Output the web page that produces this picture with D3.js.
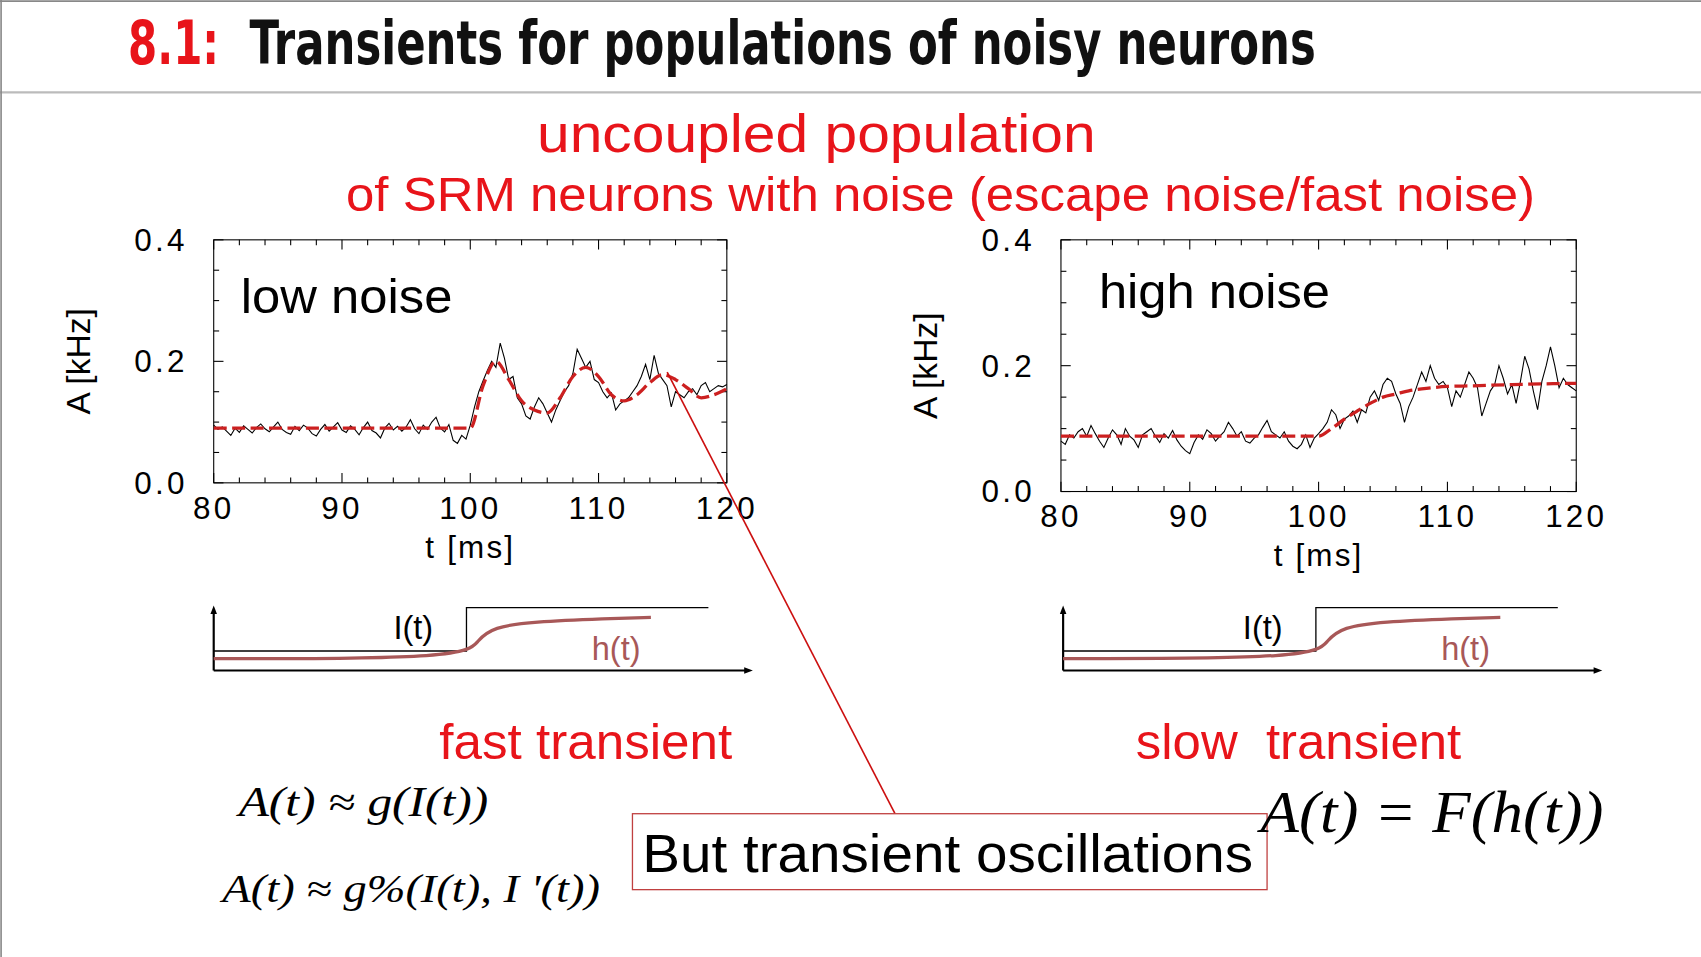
<!DOCTYPE html>
<html><head><meta charset="utf-8">
<script src="https://cdn.jsdelivr.net/npm/d3@7"></script>
<style>body{margin:0;background:#fff}svg{display:block}</style></head>
<body><svg id="c" width="1701" height="957" viewBox="0 0 1568 882"></svg>
<script>
const xTicks=[80,90,100,110,120];
const yTicks=[0.0,0.2,0.4];
const lowTheoryT=[80,100,101,102,103,104,105,106,107,108,109,110,111,112,113,114,115,116,117,118,119,120];
const lowTheory=[0.09,0.09,0.16,0.20,0.17,0.135,0.12,0.115,0.14,0.175,0.19,0.175,0.145,0.135,0.145,0.165,0.178,0.17,0.155,0.14,0.145,0.155];
const highTheoryT=[80,100,101,102,103,104,105,106,107,108,110,112,115,120];
const highTheory=[0.088,0.088,0.1,0.115,0.128,0.14,0.15,0.155,0.16,0.163,0.167,0.168,0.17,0.172];
const lowNoisy=[0.095,0.088,0.092,0.085,0.078,0.09,0.083,0.094,0.088,0.082,
0.091,0.097,0.089,0.084,0.092,0.1,0.088,0.083,0.08,0.093,
0.086,0.095,0.09,0.081,0.077,0.088,0.096,0.085,0.092,0.099,
0.087,0.083,0.094,0.088,0.079,0.091,0.1,0.086,0.082,0.074,
0.09,0.098,0.087,0.093,0.085,0.092,0.104,0.089,0.081,0.095,
0.088,0.1,0.108,0.09,0.084,0.096,0.07,0.065,0.078,0.072,
0.095,0.125,0.15,0.168,0.185,0.2,0.19,0.23,0.205,0.17,
0.175,0.14,0.13,0.11,0.105,0.125,0.14,0.13,0.115,0.1,
0.12,0.135,0.15,0.16,0.18,0.22,0.205,0.19,0.2,0.17,
0.165,0.15,0.14,0.148,0.12,0.13,0.135,0.14,0.15,0.16,
0.175,0.195,0.17,0.21,0.18,0.17,0.16,0.125,0.15,0.145,
0.14,0.15,0.155,0.145,0.16,0.165,0.15,0.155,0.16,0.158,0.162];
const highNoisy=[0.08,0.075,0.09,0.085,0.095,0.1,0.088,0.105,0.092,0.08,
0.07,0.085,0.098,0.09,0.075,0.1,0.088,0.082,0.07,0.09,
0.095,0.1,0.088,0.078,0.092,0.085,0.097,0.082,0.072,0.065,
0.06,0.078,0.09,0.083,0.098,0.092,0.08,0.088,0.095,0.11,
0.1,0.088,0.095,0.08,0.077,0.085,0.09,0.102,0.113,0.095,
0.09,0.085,0.095,0.08,0.072,0.068,0.075,0.09,0.07,0.085,
0.092,0.1,0.11,0.13,0.122,0.1,0.115,0.12,0.128,0.11,
0.13,0.125,0.15,0.16,0.145,0.17,0.18,0.175,0.155,0.14,
0.11,0.135,0.15,0.17,0.19,0.175,0.2,0.18,0.17,0.175,
0.165,0.135,0.16,0.15,0.17,0.19,0.18,0.165,0.12,0.14,
0.16,0.17,0.2,0.18,0.155,0.17,0.14,0.175,0.215,0.195,
0.16,0.13,0.175,0.2,0.23,0.2,0.165,0.18,0.17,0.165,0.16];

const svg=d3.select("#c");
const SANS="'Liberation Sans',Arial,sans-serif";
svg.append("line").attr("x1",0).attr("x2",1568).attr("y1",85).attr("y2",85).attr("stroke","#bbb").attr("stroke-width",2);
svg.append("line").attr("x1",1).attr("x2",1).attr("y1",0).attr("y2",882).attr("stroke","#888").attr("stroke-width",1.5);
svg.append("line").attr("x1",0).attr("x2",1568).attr("y1",1).attr("y2",1).attr("stroke","#888").attr("stroke-width",1.5);
const tf="'Liberation Sans Narrow','DejaVu Sans Condensed',sans-serif";
svg.append("text").attr("x",118).attr("y",59).attr("font-family",tf).attr("font-weight","bold").attr("font-size",56).attr("fill","#e8141a").attr("textLength",84).attr("lengthAdjust","spacingAndGlyphs").text("8.1:");
svg.append("text").attr("x",230).attr("y",59).attr("font-family",tf).attr("font-weight","bold").attr("font-size",56).attr("fill","#111").attr("textLength",983).attr("lengthAdjust","spacingAndGlyphs").text("Transients for populations of noisy neurons");
svg.append("text").attr("x",495).attr("y",140).attr("font-family",SANS).attr("font-size",50).attr("fill","#e8141a").attr("textLength",515).attr("lengthAdjust","spacingAndGlyphs").text("uncoupled population");
svg.append("text").attr("x",319).attr("y",194).attr("font-family",SANS).attr("font-size",44).attr("fill","#e8141a").attr("textLength",1096).attr("lengthAdjust","spacingAndGlyphs").text("of SRM neurons with noise (escape noise/fast noise)");

function panel(x0,x1,y0,y1,label,lx,ly,lw,noisy,thT,th){
  const x=d3.scaleLinear().domain([80,120]).range([x0,x1]);
  const y=d3.scaleLinear().domain([0,0.4]).range([y1,y0]);
  const g=svg.append("g");
  g.append("rect").attr("x",x0).attr("y",y0).attr("width",x1-x0).attr("height",y1-y0).attr("fill","none").attr("stroke","#000").attr("stroke-width",1);
  d3.range(80,121,2).forEach(t=>{const L=t%10===0?9:5;
    g.append("line").attr("x1",x(t)).attr("x2",x(t)).attr("y1",y1).attr("y2",y1-L).attr("stroke","#000");
    g.append("line").attr("x1",x(t)).attr("x2",x(t)).attr("y1",y0).attr("y2",y0+L).attr("stroke","#000");});
  d3.range(0,9).forEach(k=>{const v=k*0.05;const L=k%4===0?9:5;
    g.append("line").attr("x1",x0).attr("x2",x0+L).attr("y1",y(v)).attr("y2",y(v)).attr("stroke","#000");
    g.append("line").attr("x1",x1).attr("x2",x1-L).attr("y1",y(v)).attr("y2",y(v)).attr("stroke","#000");});
  xTicks.forEach(t=>g.append("text").attr("x",x(t)).attr("y",y1+33).attr("text-anchor","middle").attr("font-family",SANS).attr("font-size",29).attr("letter-spacing",3).text(t));
  yTicks.forEach(v=>g.append("text").attr("x",x0-24).attr("y",y(v)+10).attr("text-anchor","end").attr("font-family",SANS).attr("font-size",29).attr("letter-spacing",3).text(v.toFixed(1)));
  g.append("text").attr("x",(x0+x1)/2).attr("y",y1+69).attr("text-anchor","middle").attr("font-family",SANS).attr("font-size",29).attr("letter-spacing",2).text("t [ms]");
  g.append("text").attr("transform",`translate(${x0-114},${(y0+y1)/2}) rotate(-90)`).attr("text-anchor","middle").attr("font-family",SANS).attr("font-size",31).text("A [kHz]");
  g.append("text").attr("x",lx).attr("y",ly).attr("font-family",SANS).attr("font-size",44).attr("textLength",lw).attr("lengthAdjust","spacingAndGlyphs").text(label);
  const line=d3.line().x(d=>x(d[0])).y(d=>y(d[1]));
  g.append("path").attr("d",line(noisy.map((v,i)=>[80+i/3,v]))).attr("fill","none").attr("stroke","#000").attr("stroke-width",1);
  g.append("path").attr("d",d3.line().x(d=>x(d[0])).y(d=>y(d[1])).curve(d3.curveMonotoneX)(thT.map((t,i)=>[t,th[i]]))).attr("fill","none").attr("stroke","#cc2020").attr("stroke-width",3).attr("stroke-dasharray","12,5");
}
panel(197,670,221,445,"low noise",222,288,195,lowNoisy,lowTheoryT,lowTheory);
panel(978,1453,221,453,"high noise",1013,284,213,highNoisy,highTheoryT,highTheory);

function schematic(dx){
  const g=svg.append("g").attr("transform",`translate(${dx},0)`);
  g.append("line").attr("x1",197).attr("x2",197).attr("y1",618).attr("y2",562).attr("stroke","#000").attr("stroke-width",2);
  g.append("path").attr("d","M194,566 L197,558 L200,566Z");
  g.append("line").attr("x1",197).attr("x2",690).attr("y1",618).attr("y2",618).attr("stroke","#000").attr("stroke-width",2);
  g.append("path").attr("d","M686,615 L694,618 L686,621Z");
  g.append("path").attr("d","M197,600 H430 V560 H653").attr("fill","none").attr("stroke","#000").attr("stroke-width",1.2);
  const h=d3.line().curve(d3.curveBasis)([[197,607],[430,607],[440,590],[455,578],[490,573],[560,570],[600,569]]);
  g.append("path").attr("d",h).attr("fill","none").attr("stroke","#a85858").attr("stroke-width",3);
  g.append("text").attr("x",381).attr("y",589).attr("text-anchor","middle").attr("font-family",SANS).attr("font-size",30).text("I(t)");
  g.append("text").attr("x",568).attr("y",608).attr("text-anchor","middle").attr("font-family",SANS).attr("font-size",30).attr("fill","#a85858").text("h(t)");
}
schematic(0);schematic(783);

svg.append("text").attr("x",405).attr("y",700).attr("font-family",SANS).attr("font-size",46).attr("fill","#e8141a").attr("textLength",270).attr("lengthAdjust","spacingAndGlyphs").text("fast transient");
svg.append("text").attr("x",1047).attr("y",700).attr("font-family",SANS).attr("font-size",46).attr("fill","#e8141a").attr("textLength",300).attr("lengthAdjust","spacingAndGlyphs").attr("xml:space","preserve").text("slow  transient");
const SER="'Liberation Serif','Times New Roman',serif";
svg.append("text").attr("x",220).attr("y",752).attr("font-family",SER).attr("font-size",38).attr("font-style","italic").attr("textLength",230).attr("lengthAdjust","spacingAndGlyphs").text("A(t) ≈ g(I(t))");
svg.append("text").attr("x",205).attr("y",831).attr("font-family",SER).attr("font-size",36).attr("font-style","italic").attr("textLength",348).attr("lengthAdjust","spacingAndGlyphs").text("A(t) ≈ g%(I(t), I '(t))");
svg.append("line").attr("x1",615).attr("y1",343).attr("x2",825).attr("y2",750).attr("stroke","#cc1010").attr("stroke-width",1.5);
svg.append("rect").attr("x",583).attr("y",750).attr("width",585).attr("height",70).attr("fill","#fff").attr("stroke","#c04040").attr("stroke-width",1.2);
svg.append("text").attr("x",1162).attr("y",767).attr("font-family",SER).attr("font-size",54).attr("font-style","italic").attr("textLength",316).attr("lengthAdjust","spacingAndGlyphs").text("A(t) = F(h(t))");
svg.append("text").attr("x",592).attr("y",804).attr("font-family",SANS).attr("font-size",50).attr("textLength",563).attr("lengthAdjust","spacingAndGlyphs").text("But transient oscillations");
</script></body></html>
